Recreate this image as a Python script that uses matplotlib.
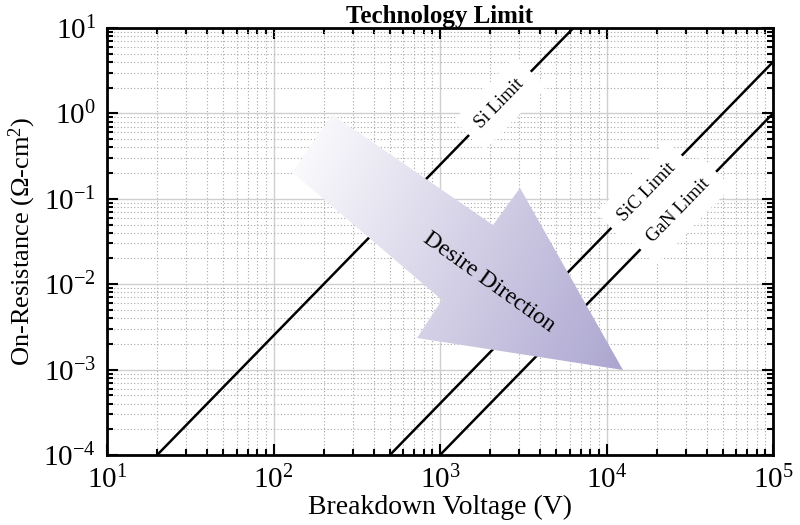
import numpy as np
import matplotlib
matplotlib.use("Agg")
import matplotlib.pyplot as plt
from matplotlib.patches import Polygon
from matplotlib.ticker import LogLocator, NullFormatter

plt.rcParams['font.family'] = ['Liberation Serif', 'DejaVu Serif']
plt.rcParams['mathtext.fontset'] = 'custom'
plt.rcParams['mathtext.rm'] = 'Liberation Serif'
plt.rcParams['mathtext.it'] = 'Liberation Serif:italic'
plt.rcParams['mathtext.default'] = 'regular'

# ---- data ----
materials = ["Si", "SiC", "GaN"]
v_start = [20, 500, 1000]          # breakdown voltage at 1e-4 ohm-cm2
r_start = [1e-4, 1e-4, 1e-4]
v_end = [6325, 1e5, 1e5]
r_end = [10, 4, 1]
label_texts = ["Si Limit", "SiC Limit", "GaN Limit"]
label_v = [2290, 17400, 27000]
x_ticks = [1e1, 1e2, 1e3, 1e4, 1e5]
y_ticks = [1e-4, 1e-3, 1e-2, 1e-1, 1e0, 1e1]

fig = plt.figure(figsize=(8, 5.25), dpi=100)
ax = fig.add_axes([107/800, 1-455/525, (773-107)/800, (455-28)/525])
ax.set_xscale('log')
ax.set_yscale('log')
ax.set_xlim(1e1, 1e5)
ax.set_ylim(1e-4, 1e1)

for vs, rs, ve, re in zip(v_start, r_start, v_end, r_end):
    ax.plot([vs, ve], [rs, re], color='black', lw=1.8, zorder=3, solid_capstyle='butt')

ax.xaxis.set_minor_locator(LogLocator(base=10, subs=np.arange(2, 10), numticks=20))
ax.yaxis.set_minor_locator(LogLocator(base=10, subs=np.arange(2, 10), numticks=20))
ax.xaxis.set_minor_formatter(NullFormatter())
ax.yaxis.set_minor_formatter(NullFormatter())
ax.set_xticks(x_ticks)
ax.set_yticks(y_ticks)

ax.grid(True, which='major', color='#cfcfcf', lw=1.0, ls='-', zorder=0)
ax.grid(True, which='minor', color='#a8a8a8', lw=0.8, ls=(0, (1, 2)), zorder=0)
ax.set_axisbelow(True)

ax.tick_params(which='both', direction='in', top=True, right=True, width=1.5)
ax.tick_params(which='major', length=8, labelsize=21, pad=8)
ax.tick_params(which='minor', length=4)
for s in ax.spines.values():
    s.set_linewidth(2.0)

ax.set_xlabel("Breakdown Voltage (V)", fontsize=20, labelpad=0)
ax.set_ylabel("On-Resistance (Ω-cm$^2$)", fontsize=19, labelpad=4)
ax.set_title("Technology Limit", fontsize=18, fontweight='bold', pad=3)

# line labels with white boxes
for txt, vl, vs, rs, ve, re in zip(label_texts, label_v, v_start, r_start, v_end, r_end):
    lv = np.log10([vs, ve]); lr = np.log10([rs, re])
    rl = 10 ** np.interp(np.log10(vl), lv, lr)
    p1 = ax.transData.transform((vs, rs)); p2 = ax.transData.transform((ve, re))
    ang = np.degrees(np.arctan2(p2[1]-p1[1], p2[0]-p1[0]))
    ax.text(vl, rl, txt, rotation=ang, rotation_mode='anchor', ha='center', va='center',
            fontsize=13.5, zorder=4,
            bbox=dict(boxstyle='square,pad=0.7', fc='white', ec='none'))

# gradient arrow overlay
ov = fig.add_axes([0, 0, 1, 1], zorder=5)
ov.set_xlim(0, 800); ov.set_ylim(525, 0); ov.axis('off')
arrow_pts = [(333, 115), (493, 225), (520, 188), (623, 370), (417, 338), (442, 300), (292, 172)]
poly = Polygon(arrow_pts, closed=True, fc='none', ec='none')
ov.add_patch(poly)
nx, ny = 200, 200
xx, yy = np.meshgrid(np.linspace(0, 1, nx), np.linspace(0, 1, ny))
t = np.clip((xx * 0.75 + yy * 0.25), 0, 1)
c0 = np.array([1.0, 1.0, 1.0]); c1 = np.array([172, 166, 208]) / 255
img = c0[None, None, :] * (1 - t[..., None]) + c1[None, None, :] * t[..., None]
im = ov.imshow(img, extent=(292, 623, 370, 115), aspect='auto', zorder=5, interpolation='bilinear')
im.set_clip_path(poly)
ov.set_xlim(0, 800); ov.set_ylim(525, 0)
ov.text(489, 282, "Desire Direction", rotation=-35.6, rotation_mode='anchor', ha='center', va='center',
        fontsize=17, zorder=6, color='black')

fig.savefig("out.png", dpi=100)
